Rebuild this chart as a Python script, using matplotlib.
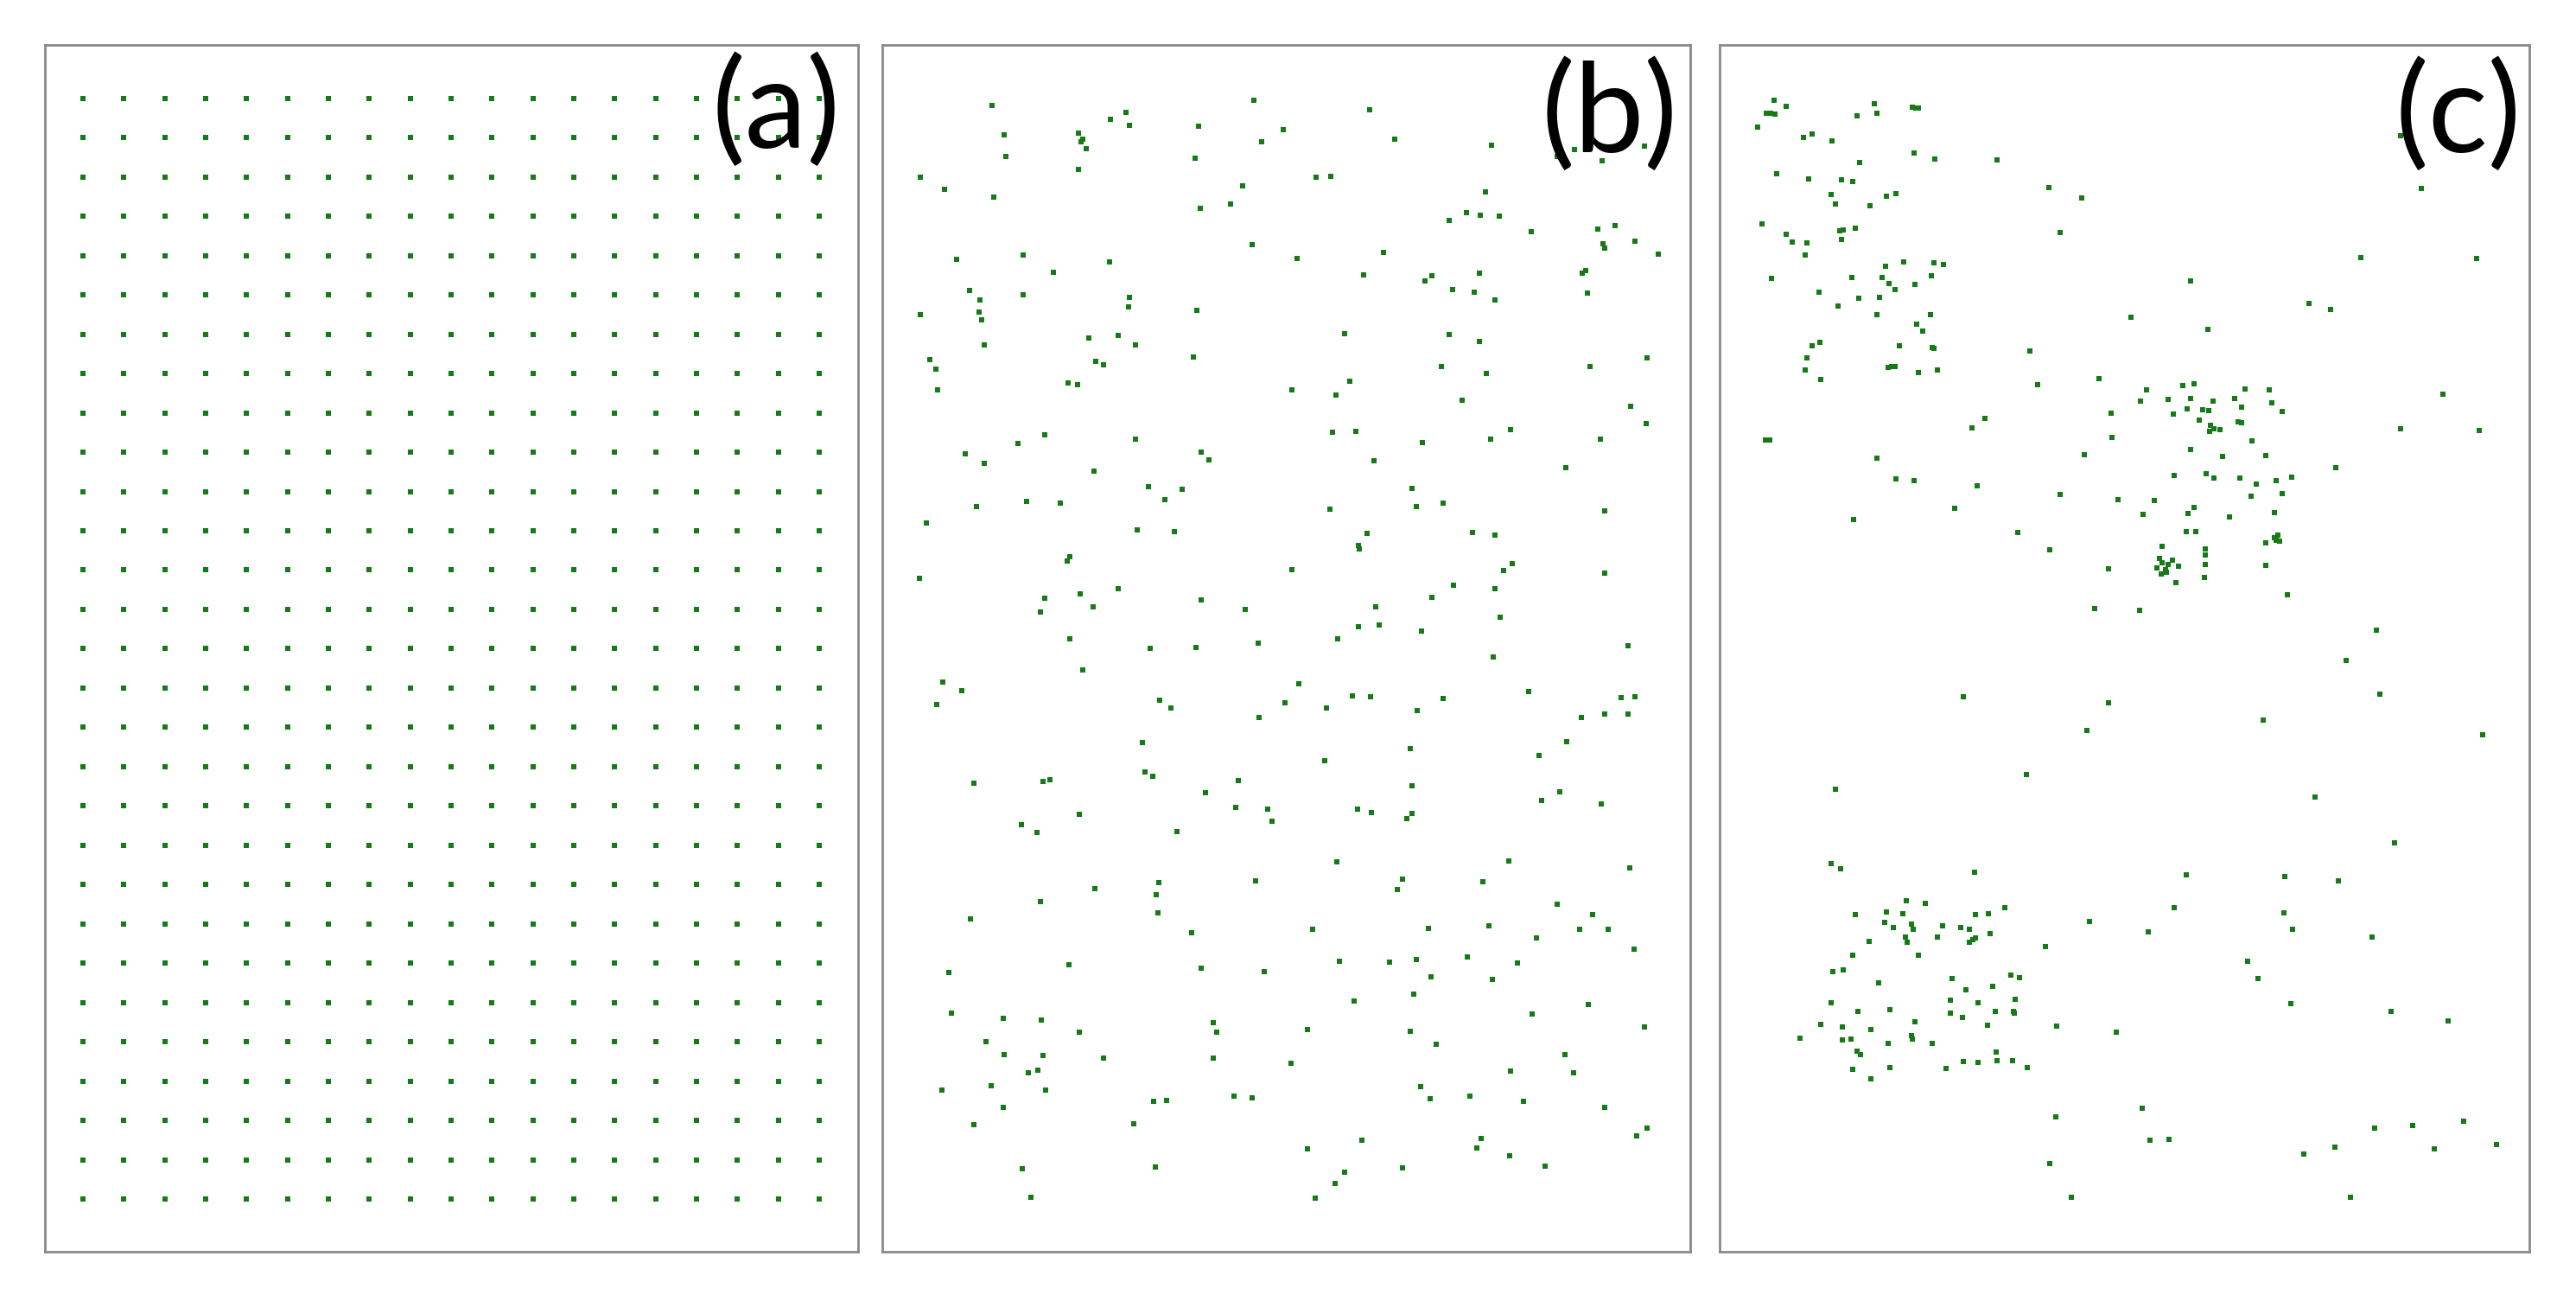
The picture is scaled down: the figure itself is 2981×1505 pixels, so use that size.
import numpy as np
import matplotlib
matplotlib.use("Agg")
import matplotlib.pyplot as plt

# (a) regular grid: column / row indices
grid_cols = [1, 2, 3, 4, 5, 6, 7, 8, 9, 10, 11, 12, 13, 14, 15, 16, 17, 18, 19]
grid_rows = [1, 2, 3, 4, 5, 6, 7, 8, 9, 10, 11, 12, 13, 14, 15, 16, 17, 18, 19, 20,
             21, 22, 23, 24, 25, 26, 27, 28, 29]

# (b) random layout, (x, y) in field units (y grows downwards)
panel_b_xy = [
    (380, 155), (422, 232), (428, 287), (133, 341), (216, 372), (388, 393),
    (682, 226), (697, 243), (690, 250), (707, 267), (681, 322), (793, 190), (845, 174), (858, 206),
    (1097, 208), (1087, 292), (1105, 422), (1208, 410), (1252, 364), (1290, 141), (1318, 249),
    (1392, 217), (1283, 517), (257, 553), (489, 543), (593, 587), (789, 560), (304, 634), (340, 660),
    (337, 690), (345, 711), (131, 698), (488, 645), (858, 653), (854, 677), (1091, 687), (355, 777),
    (716, 758), (818, 752), (879, 777), (742, 818), (768, 827), (1081, 808), (166, 815), (186, 838),
    (193, 893), (646, 874), (679, 879), (565, 1009), (472, 1031), (289, 1059), (355, 1083),
    (880, 1020), (1106, 1053), (1133, 1074), (735, 1104), (923, 1143), (982, 1176), (1042, 1151),
    (327, 1196), (500, 1181), (618, 1185), (154, 1238), (884, 1255), (1015, 1259), (641, 1336),
    (651, 1326), (129, 1381), (563, 1432), (548, 1468), (687, 1422), (733, 1456), (818, 1407),
    (1107, 1436), (1261, 1461), (652, 1538), (930, 1562), (1088, 1560), (1304, 1550),
    (1692, 166), (1780, 243), (1505, 342), (1557, 339), (1440, 552), (1422, 893),
    (2115, 259), (2095, 380), (1968, 453), (2027, 434), (2076, 439), (2143, 442), (2252, 482),
    (2342, 287), (2403, 270), (2500, 298), (2647, 260), (2484, 476), (2545, 467), (2503, 514),
    (2508, 524), (2612, 507), (2695, 540), (2431, 590), (2443, 584), (2447, 641),
    (1741, 536), (1671, 594), (1885, 610), (1907, 597), (2074, 591), (1980, 632), (2054, 640),
    (2127, 660), (1604, 746), (1969, 750), (2074, 768), (1942, 832), (2098, 850), (2458, 833),
    (2654, 810), (1624, 870), (1576, 906), (2012, 919), (2599, 935), (2653, 981),
    (1564, 1002), (1644, 1001), (1875, 1030), (2113, 1020), (2180, 995), (2494, 1021),
    (1707, 1077), (2372, 1095), (1840, 1147), (1855, 1195), (1948, 1186), (1555, 1202), (2507, 1207),
    (1682, 1265), (1654, 1297), (1657, 1305), (2049, 1262), (2126, 1268),
    (1422, 1358), (2156, 1360), (2188, 1343), (1984, 1398), (1907, 1430), (2126, 1409), (2507, 1368),
    (1712, 1454), (1652, 1507), (1726, 1503), (1582, 1538), (1872, 1518), (2146, 1483), (2588, 1557),
    (210, 1650), (275, 1673), (190, 1709), (697, 1618), (964, 1698), (1002, 1718), (1307, 1743),
    (1397, 1704), (904, 1807), (912, 1883), (940, 1894), (1123, 1937), (1235, 1906), (1226, 1975),
    (1337, 1980), (1353, 2010), (1022, 2037), (317, 1913), (557, 1908), (583, 1904), (683, 1994),
    (484, 2019), (538, 2040), (737, 2185), (550, 2220), (959, 2170), (952, 2202), (957, 2249),
    (1295, 2165), (306, 2265), (1074, 2301), (231, 2404), (649, 2384), (1107, 2391), (1327, 2400),
    (239, 2509), (419, 2523), (551, 2526), (685, 2558), (1150, 2534), (1161, 2558),
    (360, 2582), (422, 2617), (558, 2619), (767, 2624), (1149, 2624),
    (506, 2664), (540, 2656), (207, 2708), (378, 2697), (567, 2709), (421, 2753),
    (943, 2737), (986, 2735), (1222, 2724), (1285, 2728),
    (317, 2798), (873, 2795), (487, 2911), (947, 2908), (516, 2987),
    (2122, 1585), (1447, 1655), (1633, 1685), (1694, 1688), (1542, 1717), (1857, 1723), (1946, 1692),
    (2245, 1674), (2565, 1690), (2613, 1689), (2428, 1741), (2507, 1733), (2588, 1734), (2377, 1805),
    (2280, 1840), (1834, 1822), (1535, 1853), (1840, 1918), (2352, 1935), (2290, 1956), (2495, 1966),
    (1650, 1979), (1698, 1988), (1840, 1991), (1822, 2005),
    (1577, 2116), (2176, 2114), (2594, 2132), (1805, 2161), (1788, 2188), (2086, 2168), (2342, 2226),
    (2465, 2254), (1495, 2290), (1896, 2289), (2107, 2282), (2420, 2290), (2521, 2290), (2270, 2314),
    (2610, 2343), (1588, 2373), (1761, 2376), (1854, 2370), (2031, 2362), (2205, 2379), (1906, 2414),
    (2119, 2421), (1639, 2478), (1844, 2459), (2255, 2511), (2452, 2486), (2647, 2544),
    (1477, 2550), (1832, 2556), (1923, 2589), (1419, 2639), (2369, 2617), (2400, 2664), (2181, 2658),
    (1868, 2698), (1901, 2731), (2039, 2723), (2225, 2738), (2509, 2753),
    (2654, 2806), (2620, 2827), (1666, 2839), (1476, 2861), (2079, 2834), (2063, 2858), (2179, 2878),
    (2302, 2906), (1806, 2909), (1606, 2920), (1573, 2949), (1502, 2988),
]

# (c) clustered layout, same units
panel_c_xy = [
    (190, 141), (232, 157), (163, 175), (177, 176), (192, 177), (133, 211), (290, 237), (320, 229),
    (390, 247), (536, 151), (547, 175), (477, 183), (668, 160), (680, 161), (690, 162), (487, 302),
    (674, 279), (748, 294), (963, 296), (1143, 367), (1257, 394), (1182, 484),
    (199, 333), (309, 345), (423, 348), (463, 353), (387, 387), (401, 411), (521, 415), (580, 390),
    (612, 383), (148, 463), (231, 489), (252, 509), (302, 512), (298, 543), (418, 481), (430, 477),
    (422, 503), (470, 473), (179, 604), (346, 639), (411, 675), (458, 600), (484, 656), (577, 573),
    (640, 561), (565, 601), (588, 617), (610, 633), (555, 653), (545, 697), (678, 618), (736, 596),
    (745, 564), (777, 568), (732, 697), (685, 723), (706, 741), (624, 779), (738, 783), (745, 785),
    (320, 779), (348, 769), (302, 809), (297, 840), (352, 866), (586, 835), (598, 833), (610, 833),
    (689, 847), (756, 841), (1076, 791), (1104, 879), (1316, 863), (1359, 954), (1361, 1015),
    (1267, 1060), (920, 967), (875, 992), (160, 1022), (175, 1022), (545, 1070), (613, 1124),
    (674, 1128), (893, 1142), (817, 1199), (1183, 1163), (1384, 1178), (464, 1229), (1036, 1263),
    (1146, 1308), (1351, 1356), (1301, 1459),
    (2365, 233), (2436, 371), (2227, 549), (2629, 552), (1636, 611), (2045, 668), (2120, 684),
    (1427, 705), (1694, 735), (1482, 892), (1460, 921), (1608, 882), (1647, 876), (1556, 918),
    (1636, 914), (1574, 955), (1624, 941), (1678, 944), (1697, 946), (1712, 921), (1664, 972),
    (1703, 985), (1717, 993), (1737, 995), (1700, 1000), (1789, 914), (1824, 890), (1811, 937),
    (1801, 975), (1813, 978), (1907, 893), (1916, 925), (1952, 948), (1847, 1025), (1635, 1047),
    (1747, 1064), (1896, 1063), (2140, 1095), (2512, 903), (2365, 993), (2637, 997),
    (1577, 1114), (1690, 1111), (1715, 1120), (1805, 1122), (1863, 1136), (1932, 1127), (1986, 1118),
    (1846, 1168), (1952, 1161), (1508, 1180), (1470, 1216), (1627, 1214), (1648, 1198), (1769, 1223),
    (1925, 1210), (1620, 1259), (1653, 1259), (1535, 1298), (1527, 1330), (1537, 1340), (1517, 1355),
    (1547, 1358), (1557, 1345), (1572, 1335), (1592, 1350), (1532, 1370), (1552, 1365), (1583, 1392),
    (1687, 1305), (1685, 1320), (1687, 1345), (1683, 1378), (1897, 1290), (1927, 1275), (1937, 1268),
    (1944, 1285), (1932, 1283), (1896, 1348), (1970, 1423), (1457, 1463), (2280, 1516),
    (847, 1688), (1351, 1704), (1276, 1775), (1064, 1890), (403, 1929), (386, 2120), (420, 2134),
    (884, 2143), (647, 2218), (715, 2224), (472, 2252), (580, 2247), (637, 2250), (574, 2273),
    (602, 2286), (667, 2278), (672, 2290), (645, 2312), (652, 2325), (757, 2311), (773, 2281),
    (836, 2287), (866, 2291), (889, 2254), (932, 2251), (991, 2236), (938, 2302), (868, 2325),
    (878, 2317), (887, 2314), (520, 2322), (463, 2359), (689, 2358), (1284, 2270), (1130, 2336),
    (393, 2400), (428, 2397), (551, 2429), (808, 2419), (855, 2449), (949, 2439), (1012, 2409),
    (1042, 2416), (387, 2482), (481, 2503), (592, 2500), (801, 2474), (896, 2481), (1025, 2472),
    (801, 2508), (842, 2520), (956, 2505), (1020, 2503), (1022, 2509), (350, 2537), (679, 2532),
    (929, 2540), (1171, 2543), (1377, 2558), (278, 2573), (425, 2544), (525, 2552), (427, 2577),
    (457, 2575), (666, 2567), (668, 2575), (584, 2587), (739, 2587), (476, 2606), (488, 2615),
    (961, 2610), (963, 2631), (1017, 2632), (1068, 2649), (591, 2650), (463, 2655), (526, 2679),
    (785, 2651), (845, 2634), (898, 2637), (1168, 2777), (1147, 2898), (1220, 2987),
    (2175, 1593), (2293, 1681), (1886, 1748), (2648, 1786), (2067, 1948), (2342, 2066), (1621, 2150),
    (1962, 2155), (2147, 2165), (1577, 2234), (1488, 2297), (1959, 2249), (1990, 2292), (2265, 2312),
    (1833, 2373), (1870, 2419), (1982, 2483), (2331, 2504), (2529, 2529), (1466, 2755), (1495, 2838),
    (1559, 2836), (2027, 2873), (2137, 2857), (2273, 2806), (2406, 2799), (2480, 2860), (2583, 2788),
    (2698, 2850), (2190, 2985),
]

panel_labels = ["(a)", "(b)", "(c)"]

dot_color = "#167a16"
frame_color = "#8a8a8a"
dot_size = 16

fig = plt.figure(figsize=(29.81, 15.05), dpi=100)

# axes rectangles (left, bottom, width, height) in figure fraction
ax_a = fig.add_axes([0.0174, 0.0379, 0.3157, 0.9276])
ax_b = fig.add_axes([0.3425, 0.0379, 0.3137, 0.9276])
ax_c = fig.add_axes([0.6676, 0.0379, 0.3143, 0.9276])

gx, gy = np.meshgrid(grid_cols, grid_rows)
ax_a.scatter(gx.ravel(), gy.ravel(), s=dot_size, marker="s", color=dot_color, linewidths=0)
ax_a.set_xlim(0.07, 19.95)
ax_a.set_ylim(30.34, -0.36)

b_x, b_y = np.array(panel_b_xy).T
ax_b.scatter(b_x, b_y, s=dot_size, marker="s", color=dot_color, linewidths=0)
ax_b.set_xlim(0, 2805)
ax_b.set_ylim(3127, -2)

c_x, c_y = np.array(panel_c_xy).T
ax_c.scatter(c_x, c_y, s=dot_size, marker="s", color=dot_color, linewidths=0)
ax_c.set_xlim(0, 2811)
ax_c.set_ylim(3127, -2)

label_pos = [(0.978, 0.992), (0.985, 0.988), (0.990, 0.988)]
for ax, lab, (lx, ly) in zip([ax_a, ax_b, ax_c], panel_labels, label_pos):
    ax.set_xticks([])
    ax.set_yticks([])
    for sp in ax.spines.values():
        sp.set_color(frame_color)
        sp.set_linewidth(2)
    ax.text(lx, ly, lab, transform=ax.transAxes, ha="right", va="top",
            fontsize=104, family="Lato", color="black")

fig.savefig("out.png", dpi=100, facecolor="white")
